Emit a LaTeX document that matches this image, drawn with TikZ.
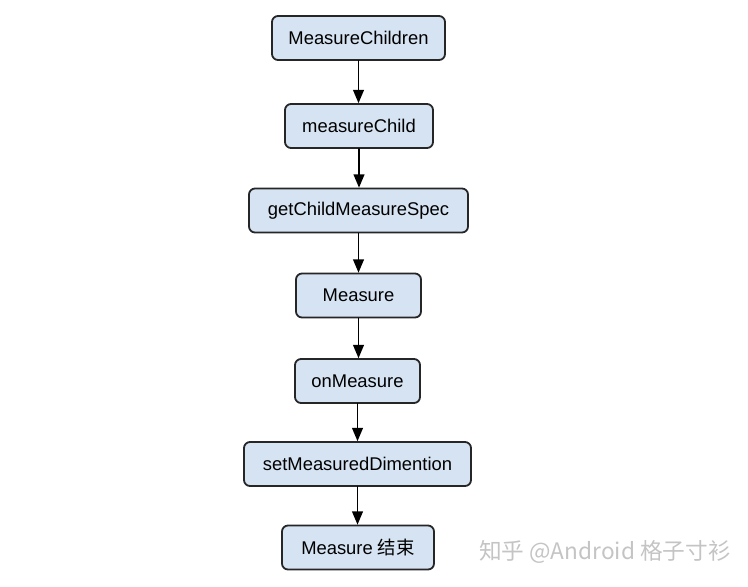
\documentclass[tikz,border=0pt]{standalone}
\usepackage{fontspec}
\setmainfont{Liberation Sans}
\newfontfamily\cjk{Noto Sans CJK SC}
\usetikzlibrary{arrows}
\definecolor{boxblue}{HTML}{D5E3F2}
\definecolor{markgray}{HTML}{C4C4C4}

\begin{document}
\begin{tikzpicture}[line cap=round,line join=round,>=triangle 45,x=0.75pt,y=-0.75pt,
  stepbox/.style={draw=black!85,line width=1.35pt,fill=boxblue,rounded corners=4.5pt,
    font=\fontsize{13.8}{16}\selectfont,inner sep=0pt,minimum height=33pt},
  flow/.style={->,line width=1.3pt}]
%\clip (0,0) rectangle (748,586);
\useasboundingbox (0,0) rectangle (748,586);
\node[stepbox,minimum width=129.75pt] (children) at (358.5,38) {MeasureChildren};
\node[stepbox,minimum width=111pt] (child) at (359,126) {measureChild};
\node[stepbox,minimum width=164.25pt] (spec) at (358.5,210.5) {getChildMeasureSpec};
\node[stepbox,minimum width=93.75pt] (measure) at (358.5,295.5) {Measure};
\node[stepbox,minimum width=93.75pt] (onmeasure) at (357.5,381) {onMeasure};
\node[stepbox,minimum width=170.25pt] (setdim) at (357.5,464) {setMeasuredDimention};
\node[stepbox,minimum width=114pt] (done) at (358,547.5) {Measure {\cjk 结束}};
\draw[flow] (children.south) -- (children.south |- child.north);
\draw[flow] (child.south) -- (child.south |- spec.north);
\draw[flow] (spec.south) -- (spec.south |- measure.north);
\draw[flow] (measure.south) -- (measure.south |- onmeasure.north);
\draw[flow] (onmeasure.south) -- (onmeasure.south |- setdim.north);
\draw[flow] (setdim.south) -- (setdim.south |- done.north);
% watermark
\node[color=markgray,font=\cjk\fontsize{17}{19}\selectfont] (mark) at (605,552) {知乎 @Android 格子寸衫};
\end{tikzpicture}
\end{document}
